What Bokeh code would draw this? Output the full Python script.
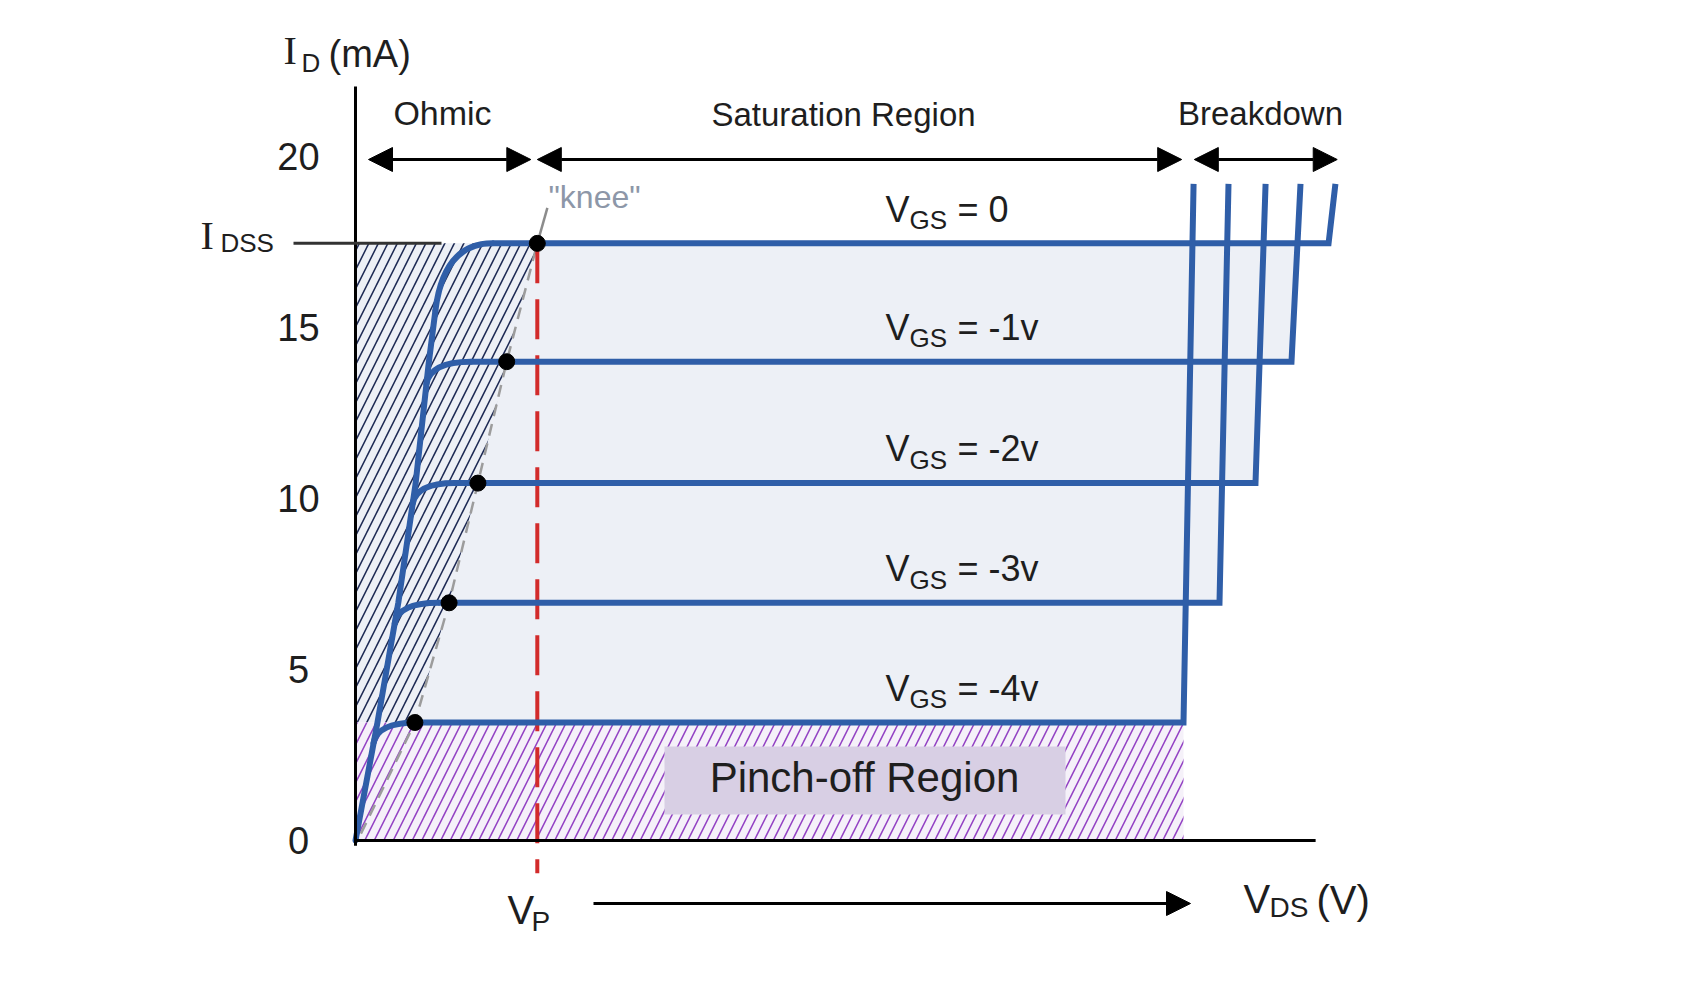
from bokeh.plotting import figure
from bokeh.models import Range1d, Arrow, NormalHead
from bokeh.core.properties import value
from bokeh.embed import file_html
from bokeh.resources import INLINE

# ---------------- data ----------------
vgs_labels = ["0", "-1v", "-2v", "-3v", "-4v"]
id_levels = [17.46, 14.0, 10.45, 6.95, 3.45]          # saturation current, mA
knee_vds = [5.05, 4.2, 3.4, 2.6, 1.65]                 # knee points, V
branch_start_vds = [2.22, 1.97, 1.59, 1.09, 0.50]     # where each curve leaves the trunk
branch_start_id = [15.5, 13.35, 9.85, 6.35, 2.85]
bend_ctrl_vds = [2.45, 2.08, 1.70, 1.20, 0.61]
bend_end_vds = [3.8, 3.2, 2.75, 2.3, 1.7]
breakdown_vds = [27.03, 26.0, 25.0, 24.0, 23.0]       # start of breakdown
breakdown_top_vds = [27.22, 26.25, 25.28, 24.25, 23.28]
breakdown_top_id = 19.2
trunk_vds = [0.0, 0.61, 1.19, 1.67, 2.03, 2.22]
trunk_id = [0.0, 3.45, 6.96, 10.44, 13.92, 15.5]
y_ticks = [20, 15, 10, 5, 0]
y_tick_labels = ["20", "15", "10", "5", "0"]
idss = 17.46
vp = 5.05
vds_axis_max = 26.67
id_axis_max = 22.05

# ---------------- layout ----------------
W, H = 1671, 984
OX, OY = 355, 840        # page pixel of the origin
SX, SY = 36.0, 34.2      # px per V, px per mA
M = 0                    # canvas offset on the page


def dx(px):
    return (px - OX) / SX


def dy(py):
    return (OY - py) / SY


p = figure(width=W, height=H, output_backend="svg", toolbar_location=None,
           x_range=Range1d(dx(M), dx(M + W)), y_range=Range1d(dy(M + H), dy(M)),
           min_border=0, outline_line_color=None, background_fill_color="white")
p.axis.visible = False
p.grid.visible = False

BLUE = "#2f5ea8"
TXT = "#1e1e1e"
SANS = "Liberation Sans"
SERIF = "Liberation Serif"

# ---- saturation region light fill (staircase up to breakdown lines) ----
def x_on_vertical(k, y):
    return breakdown_vds[k] + (breakdown_top_vds[k] - breakdown_vds[k]) * (y - id_levels[k]) / (breakdown_top_id - id_levels[k])

sat_x = [0, 0]
sat_y = [id_levels[4], id_levels[0]]
for k in range(1, 5):
    sat_x += [x_on_vertical(k, id_levels[k - 1]), breakdown_vds[k]]
    sat_y += [id_levels[k - 1], id_levels[k]]
p.patch(sat_x, sat_y, fill_color="#edf0f6", line_color=None)

# ---- ohmic hatched region ----
oh_x = [0, 0] + knee_vds
oh_y = [id_levels[4], idss] + id_levels
p.patch(oh_x, oh_y, fill_alpha=0, line_color=None,
        hatch_pattern="/", hatch_color="#1f2b55", hatch_weight=1.6, hatch_scale=19)

# ---- pinch-off hatched region ----
p.patch([0, 0, breakdown_vds[4], breakdown_vds[4]], [0, id_levels[4], id_levels[4], 0],
        fill_color="#f5f1f9", line_color=None,
        hatch_pattern="/", hatch_color="#9444c4", hatch_weight=1.6, hatch_scale=19)

# pinch-off label box
p.quad(left=dx(664), right=dx(1065), top=dy(746), bottom=dy(814),
       fill_color="#d8cfe4", line_color=None)
p.text(x=[dx(864)], y=[dy(777)], text=["Pinch-off Region"], text_font=value(SANS),
       text_font_size="42px", text_color=TXT, text_align="center", text_baseline="middle")

# ---- knee locus (gray dashed) ----
kx = [0.15] + knee_vds[::-1]
ky = [0.2] + id_levels[::-1]
p.line(kx, ky, line_color="#9c9c9c", line_width=2.5, line_dash="12 8")
p.line([knee_vds[0], knee_vds[0] + 0.28], [idss, 18.5], line_color="#8c8c8c", line_width=2.5)

# ---- VP red dashed line ----
p.line([vp, vp], [idss, -0.96], line_color="#d22b2b", line_width=4, line_dash="40 16")

# ---- characteristic curves ----
p.line(trunk_vds, trunk_id, line_color=BLUE, line_width=6, line_join="round", line_cap="round")
for k in range(5):
    p.quadratic(x0=[branch_start_vds[k]], y0=[branch_start_id[k]],
                x1=[bend_end_vds[k]], y1=[id_levels[k]],
                cx=[bend_ctrl_vds[k]], cy=[id_levels[k]],
                line_color=BLUE, line_width=6, line_cap="round")
    p.line([bend_end_vds[k], breakdown_vds[k], breakdown_top_vds[k]],
           [id_levels[k], id_levels[k], breakdown_top_id],
           line_color=BLUE, line_width=6, line_join="miter")

# knee dots
p.scatter(knee_vds, id_levels, size=16, fill_color="black", line_color="black")

# ---- axes ----
p.line([0, 0], [-0.15, id_axis_max], line_color="black", line_width=3)
p.line([0, vds_axis_max], [0, 0], line_color="black", line_width=3)
p.line([dx(293), dx(441)], [idss, idss], line_color="#333333", line_width=3)

# y tick labels
p.text(x=[dx(298)] * len(y_ticks), y=y_ticks, text=y_tick_labels, text_font=value(SANS),
       text_font_size="38px", text_color=TXT, text_align="center", text_baseline="middle")


def T(x, y, s, size, font=SANS, color=TXT, align="left"):
    p.text(x=[x], y=[y], text=[s], text_font=value(font), text_font_size=f"{size}px",
           text_color=color, text_align=align, text_baseline="middle")


# axis titles
T(dx(283), dy(50), "I", 40, SERIF)
T(dx(301), dy(62), "D", 26)
T(dx(328), dy(53), "(mA)", 38)
T(dx(200), dy(235), "I", 40, SERIF)
T(dx(220), dy(242), "DSS", 26)
T(dx(507), dy(909), "V", 40)
T(dx(531), dy(921), "P", 28)
T(dx(1243), dy(898), "V", 40)
T(dx(1269), dy(907), "DS", 28)
T(dx(1316), dy(899), "(V)", 40)

# region labels
T(dx(442), dy(112), "Ohmic", 34, align="center")
T(dx(843), dy(114), "Saturation Region", 33, align="center")
T(dx(1260), dy(113), "Breakdown", 33, align="center")
T(dx(548), dy(196), '"knee"', 32, color="#8d97a8")

# VGS labels
for k in range(5):
    yl = id_levels[k] + 1.0
    T(dx(885), yl, "V", 36)
    T(dx(909), yl - 0.32, "GS", 26)
    T(dx(957), yl, "= " + vgs_labels[k], 36)

# region arrows
ay = dy(159)
for xs, xe in [(dx(368), vp - 0.18), (vp, breakdown_vds[4] - 0.05), (breakdown_vds[4] + 0.3, breakdown_top_vds[0] + 0.05)]:
    p.add_layout(Arrow(start=NormalHead(size=24, fill_color="black", line_color="black"),
                       end=NormalHead(size=24, fill_color="black", line_color="black"),
                       x_start=xs, y_start=ay, x_end=xe, y_end=ay,
                       line_color="black", line_width=3))
p.add_layout(Arrow(end=NormalHead(size=24, fill_color="black", line_color="black"),
                   x_start=dx(593), y_start=dy(903), x_end=dx(1190), y_end=dy(903),
                   line_color="black", line_width=3))

open("out.html", "w").write(file_html(p, INLINE))
